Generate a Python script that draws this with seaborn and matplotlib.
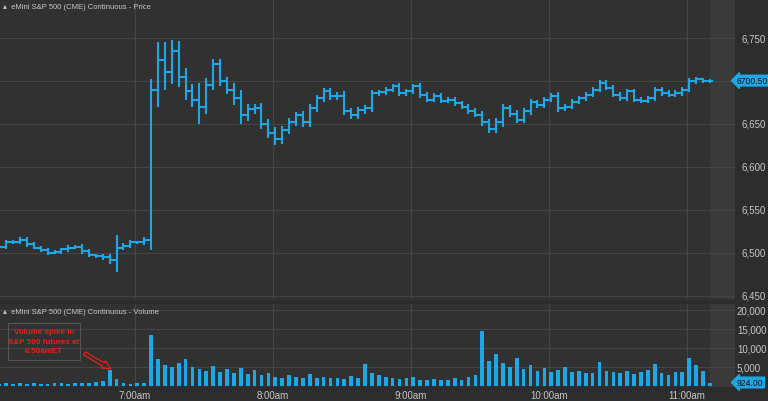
import matplotlib
matplotlib.use("Agg")
import matplotlib.pyplot as plt
import seaborn as sns
import numpy as np
from matplotlib.patches import FancyArrowPatch, Rectangle

sns.set_style("dark")
plt.rcParams['font.family'] = ['Liberation Sans', 'DejaVu Sans']

# minutes after 6:00 for each 3-minute bar
bar_minutes = [1 + 3 * i for i in range(104)]
closes = [6507, 6512, 6513, 6515, 6510, 6506, 6503, 6500, 6501, 6504, 6506, 6507, 6502, 6497, 6496, 6495,
          6491, 6506, 6508, 6512, 6512, 6515, 6690, 6725, 6710, 6735, 6705, 6688, 6678, 6670, 6695, 6720,
          6700, 6690, 6680, 6660, 6667, 6668, 6650, 6640, 6632, 6643, 6652, 6660, 6652, 6668, 6680, 6688,
          6682, 6683, 6665, 6660, 6666, 6668, 6686, 6687, 6690, 6694, 6686, 6688, 6694, 6684, 6678, 6683,
          6677, 6678, 6674, 6670, 6665, 6661, 6652, 6644, 6652, 6668, 6662, 6655, 6665, 6675, 6672, 6678,
          6683, 6668, 6670, 6676, 6680, 6684, 6690, 6698, 6692, 6684, 6680, 6688, 6678, 6677, 6680, 6690,
          6686, 6684, 6686, 6690, 6700, 6702, 6700, 6700.5]
wicks = [3, 3, 2, 3, 3, 2, 2, 3, 2, 2, 3, 2, 3, 2, 2, 3,
         4, 14, 3, 3, 2, 3, 12, 20, 20, 13, 12, 10, 8, 20, 8, 6,
         6, 5, 8, 10, 6, 5, 6, 6, 6, 5, 5, 4, 5, 5, 4, 4,
         4, 4, 5, 4, 4, 4, 4, 3, 3, 3, 4, 3, 3, 4, 3, 3,
         3, 3, 3, 3, 3, 3, 4, 4, 5, 5, 4, 4, 4, 4, 3, 3,
         3, 4, 3, 3, 3, 3, 3, 3, 3, 3, 3, 3, 3, 3, 3, 3,
         3, 3, 3, 3, 3, 3, 2, 2]
volumes = [600, 700, 500, 800, 600, 700, 500, 600, 900, 700, 600, 800, 700, 900, 1000, 1200,
           4300, 1800, 800, 600, 700, 900, 13500, 7000, 5500, 5000, 6000, 7200, 5000, 4500, 4000, 5200,
           3800, 4500, 3500, 4800, 3200, 4200, 3000, 3500, 2500, 2200, 3000, 2500, 2200, 3200, 2000, 2500,
           2200, 2000, 1800, 2600, 2000, 5800, 3500, 2800, 2400, 2200, 1800, 2000, 2400, 1700, 1500, 1800,
           1600, 1500, 2000, 1700, 2500, 3000, 14500, 6500, 8500, 6000, 5000, 7500, 4500, 5500, 4000, 4800,
           3800, 4200, 5000, 3600, 4000, 3500, 3300, 6300, 4000, 3800, 3500, 4000, 3200, 3600, 4200, 5900,
           3500, 3000, 3800, 3600, 7400, 5500, 4000, 924]
time_ticks = [60, 120, 180, 240, 300]
time_labels = ["7:00am", "8:00am", "9:00am", "10:00am", "11:00am"]
price_ticks = [6450, 6500, 6550, 6600, 6650, 6700, 6750]
vol_ticks = [5000, 10000, 15000, 20000]

BG = "#2d2d2d"
AX = "#313131"
GRID = "#454545"
BLUE = "#1ca8e6"
TXT = "#c8c8c8"

fig = plt.figure(figsize=(7.68, 4.02), dpi=100, facecolor=BG)
ax = fig.add_axes([0, 1 - 300 / 402, 735 / 768, 300 / 402], facecolor=AX)
axv = fig.add_axes([0, 1 - 388 / 402, 735 / 768, 83 / 402], facecolor=AX)

xmin, xmax = 1.3, 320.9
for a in (ax, axv):
    a.set_xlim(xmin, xmax)
    a.axvspan(310, xmax, color="#3a3a3a", zorder=0, lw=0)
    for t in time_ticks:
        a.axvline(t, color=GRID, lw=0.8, zorder=1)
    for s in a.spines.values():
        s.set_visible(False)
    a.tick_params(length=0)
    a.set_xticks([])
    a.set_yticks([])

ax.set_ylim(6446, 6795.6)
axv.set_ylim(-260, 21600)
for p in price_ticks:
    ax.axhline(p, color=GRID, lw=0.8, zorder=1)
for v in vol_ticks:
    axv.axhline(v, color=GRID, lw=0.8, zorder=1)

# OHLC bars
opens = [closes[0]] + closes[:-1]
for m, o, c, w in zip(bar_minutes, opens, closes, wicks):
    hi = max(o, c) + w
    lo = min(o, c) - w
    ax.vlines(m, lo, hi, color=BLUE, lw=1.5, zorder=3)
    ax.hlines(o, m - 1.5, m, color=BLUE, lw=1.5, zorder=3)
    ax.hlines(c, m, m + 1.5, color=BLUE, lw=1.5, zorder=3)

axv.bar(bar_minutes, volumes, width=1.6, color=BLUE, edgecolor="none", linewidth=0, zorder=3)

for p in price_ticks:
    y = ax.transData.transform((0, p))[1] / fig.bbox.height
    if p != 6700:
        fig.text(741 / 768, y, f"{p:,}", color=TXT, fontsize=7, va="center")
for v in vol_ticks:
    y = axv.transData.transform((0, v))[1] / fig.bbox.height
    fig.text(737 / 768, y, f"{v:,}", color=TXT, fontsize=7, va="center")

# price tags
def tag(yfrac, text):
    fig.text(737 / 768, yfrac, text, color="#111111", fontsize=6.2, va="center",
             bbox=dict(boxstyle="larrow,pad=0.1", fc=BLUE, ec=BLUE))
tag(ax.transData.transform((0, closes[-1]))[1] / fig.bbox.height, "6700.50")
tag(axv.transData.transform((0, volumes[-1]))[1] / fig.bbox.height, "924.00")

# time labels
for t, lab in zip(time_ticks, time_labels):
    x = axv.transData.transform((t, 0))[0] / fig.bbox.width
    fig.text(x, 6 / 402, lab, color=TXT, fontsize=7, ha="center", va="center")

# titles
ax.text(0.004, 0.985, "\u25b4  eMini S&P 500 (CME) Continuous - Price", transform=ax.transAxes,
        color=TXT, fontsize=5.5, va="top")
axv.text(0.004, 0.95, "\u25b4  eMini S&P 500 (CME) Continuous - Volume", transform=axv.transAxes,
         color=TXT, fontsize=5.5, va="top")

# annotation
fig.patches.append(Rectangle((8 / 768, 1 - 361 / 402), 72 / 768, 37 / 402, transform=fig.transFigure,
                             fc="none", ec="#555555", lw=0.8))
fig.text(44 / 768, 1 - 342.5 / 402, "Volume spike in\nS&P 500 futures at\n6:50amET", color="#e8201a",
         fontsize=5.8, fontweight="bold", ha="center", va="center", linespacing=1.5)
fig.patches.append(FancyArrowPatch((82 / 768, 1 - 353 / 402), (113 / 768, 1 - 371 / 402),
                                   transform=fig.transFigure, arrowstyle="simple,head_width=6,head_length=6,tail_width=2.5",
                                   fc="none", ec="#e8201a", lw=0.9))

fig.savefig("out.png", dpi=100, facecolor=BG)
